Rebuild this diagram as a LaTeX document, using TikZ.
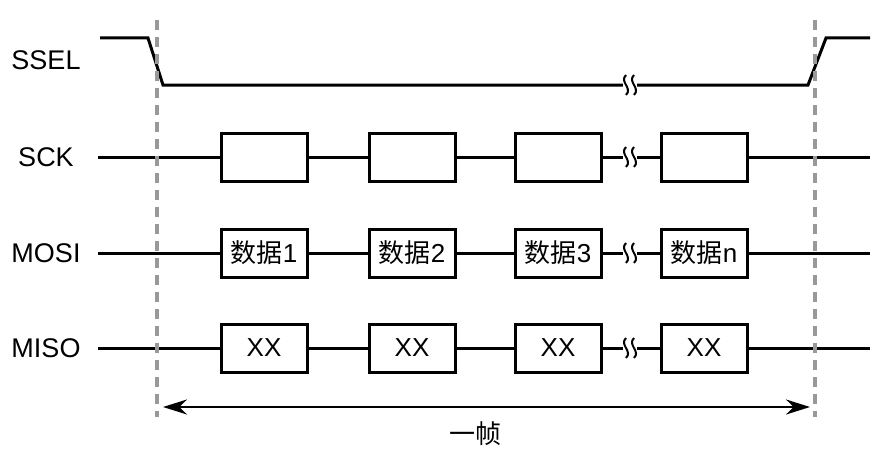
\documentclass[tikz,border=0pt]{standalone}
\usepackage{fontspec}
\setmainfont{Liberation Sans}
\newfontfamily\cjk{Noto Sans CJK SC}
\usetikzlibrary{positioning, arrows.meta, calc}
\tikzset{
  sig/.style={line width=3pt},
  slot/.style={draw, line width=3pt, minimum width=86pt, minimum height=48pt, inner sep=0pt},
  txt/.style={font=\fontsize{26}{28}\selectfont},
  lbl/.style={font=\fontsize{27}{30}\selectfont},
  guide/.style={gray!80, line width=3.2pt, dash pattern=on 10pt off 7pt}
}
\newcommand{\brk}[1]{%
  \fill[white] ($(#1)+(-7,-10)$) rectangle ($(#1)+(7,10)$);
  \foreach \dx in {-4,4}
    \draw[line width=2pt] ($(#1)+(\dx,-10)$) .. controls ($(#1)+(\dx-7,-3)$) and ($(#1)+(\dx+7,3)$) .. ($(#1)+(\dx,10)$);}
\begin{document}
\begin{tikzpicture}[x=1pt, y=-1pt]
    \useasboundingbox (0,0) rectangle (883,452);
    % Signal names
    \node[lbl] (nsel) at (46,60) {SSEL};
    \node[lbl] (nsck) at (46,157) {SCK};
    \node[lbl] (nmosi) at (46,253) {MOSI};
    \node[lbl] (nmiso) at (46,348) {MISO};
    % SSEL
    \draw[sig] (100,38) -- (148,38) -- (163,85) -- (808,85) -- (826,38) -- (870,38);
    \brk{630,85}
    % Slots on the three data lines
    \foreach \row/\y in {sck/157, mosi/253, miso/348} {
      \foreach \i/\x in {1/264, 2/412, 3/558, 4/704}
        \node[slot] (\row\i) at (\x,\y) {};
      \coordinate (\row L) at (98,\y);
      \coordinate (\row R) at (870,\y);
      \draw[sig] (\row L) -- (\row1) -- (\row2) -- (\row3) -- (\row4) -- (\row R);
      \brk{630,\y}
    }
    \foreach \i/\t in {1/1, 2/2, 3/3, 4/n}
      \node[txt] at (mosi\i) {{\cjk 数据}\t};
    \foreach \i in {1,...,4}
      \node[txt] at (miso\i) {XX};
    % Frame boundaries
    \coordinate (gl) at (157,20);
    \coordinate (gr) at (815,20);
    \draw[guide] (gl) -- ++(0,397);
    \draw[guide] (gr) -- ++(0,397);
    \coordinate (fl) at (163,407);
    \coordinate (fr) at (810,407);
    \draw[line width=2.4pt, {Stealth[length=24pt,width=15pt]}-{Stealth[length=24pt,width=15pt]}] (fl) -- (fr);
    \node[font=\cjk\fontsize{26}{28}\selectfont] (frame) at (475,434) {一帧};
\end{tikzpicture}
\end{document}
